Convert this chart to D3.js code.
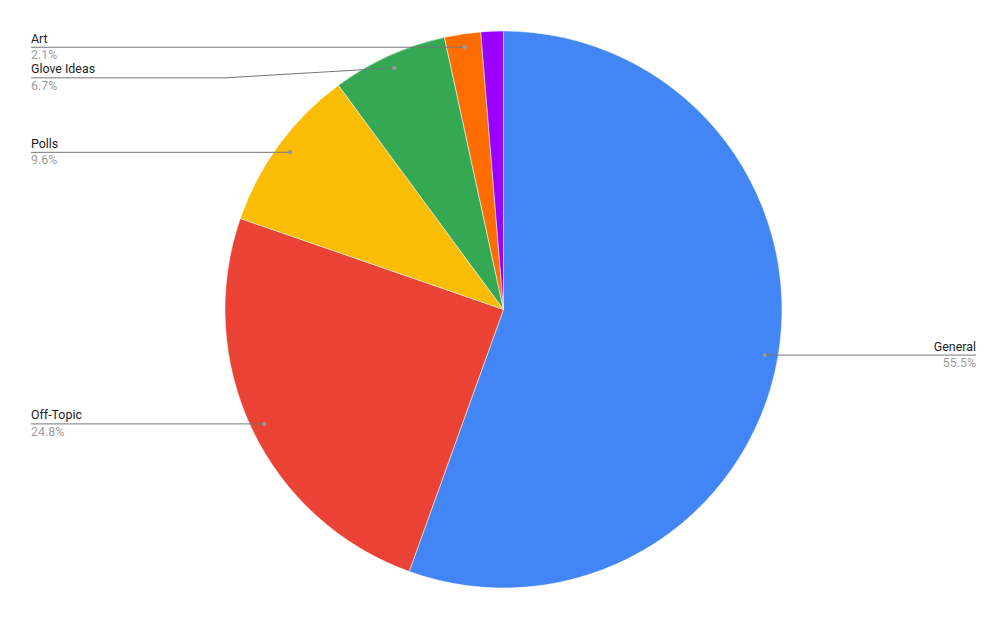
<!DOCTYPE html>
<html>
<head>
<meta charset="utf-8">
<script src="https://cdn.jsdelivr.net/npm/d3@7"></script>
<style>
  body { margin: 0; background: #fff; }
  svg { display: block; font-family: Roboto, Arial, sans-serif; }
  .name { fill: #222; font-size: 12.4px; }
  .pct { fill: #9e9e9e; font-size: 12.4px; }
  .leader { stroke: #777; stroke-width: 1; fill: none; }
</style>
</head>
<body>
<svg id="chart" width="1007" height="620"></svg>
<script>
// chart data
const categories = ['General', 'Off-Topic', 'Polls', 'Glove Ideas', 'Art', 'Other']
const values = [55.5, 24.8, 9.6, 6.7, 2.1, 1.3]
const colors = ['#4285f4', '#ea4335', '#fbbc04', '#34a853', '#ff6d01', '#9900ff']
const labelMin = 2 // slices below this % get no label

const width = 1007, height = 620
const cx = 503.5, cy = 309.5, R = 278.5
const svg = d3.select('#chart')
const g = svg.append('g').attr('transform', `translate(${cx},${cy})`)

const data = categories.map((c, i) => ({name: c, value: values[i], color: colors[i]}))
const pie = d3.pie().sort(null).value(d => d.value)
const arcs = pie(data)
const arc = d3.arc().innerRadius(0).outerRadius(R)
const dotArc = d3.arc().innerRadius(R * 0.952).outerRadius(R * 0.952)

g.selectAll('path.slice').data(arcs).join('path')
  .attr('class', 'slice')
  .attr('d', arc)
  .attr('fill', d => d.data.color)
  .attr('stroke', '#fff')
  .attr('stroke-width', 0.5)

// labels
const total = d3.sum(values)
const labs = arcs.filter(d => d.data.value / total * 100 >= labelMin).map(d => {
  const [x, y] = dotArc.centroid(d)
  const mid = (d.startAngle + d.endAngle) / 2
  return {d, x, y, ly: y, right: mid < Math.PI}
})

// keep labels apart, top one no higher than the chart top
const gap = 30.6, topY = 46.7 - cy
for (const side of [true, false]) {
  const s = labs.filter(l => l.right === side).sort((a, b) => a.ly - b.ly)
  for (let i = 0; i < s.length; i++) {
    const min = i === 0 ? topY : s[i - 1].ly + gap
    if (s[i].ly < min) s[i].ly = min
  }
}

const lg = svg.append('g')
labs.forEach(l => {
  const px = cx + l.x, py = cy + l.y, ly = cy + l.ly
  const textX = l.right ? 976 : 31
  const knee = l.right ? cx + R : cx - R
  const pts = Math.abs(ly - py) > 0.5
    ? [[textX, ly], [knee, ly], [px, py]]
    : [[textX, ly], [px, py]]
  lg.append('path').attr('class', 'leader').attr('d', d3.line()(pts))
  lg.append('circle').attr('cx', px).attr('cy', py).attr('r', 2.2).attr('fill', '#999')
  const anchor = l.right ? 'end' : 'start'
  lg.append('text').attr('class', 'name').attr('x', textX).attr('y', ly - 4.4)
    .attr('text-anchor', anchor).text(l.d.data.name)
  lg.append('text').attr('class', 'pct').attr('x', textX).attr('y', ly + 11.8)
    .attr('text-anchor', anchor).text(d3.format('.1f')(l.d.data.value / total * 100) + '%')
})
</script>
</body>
</html>
